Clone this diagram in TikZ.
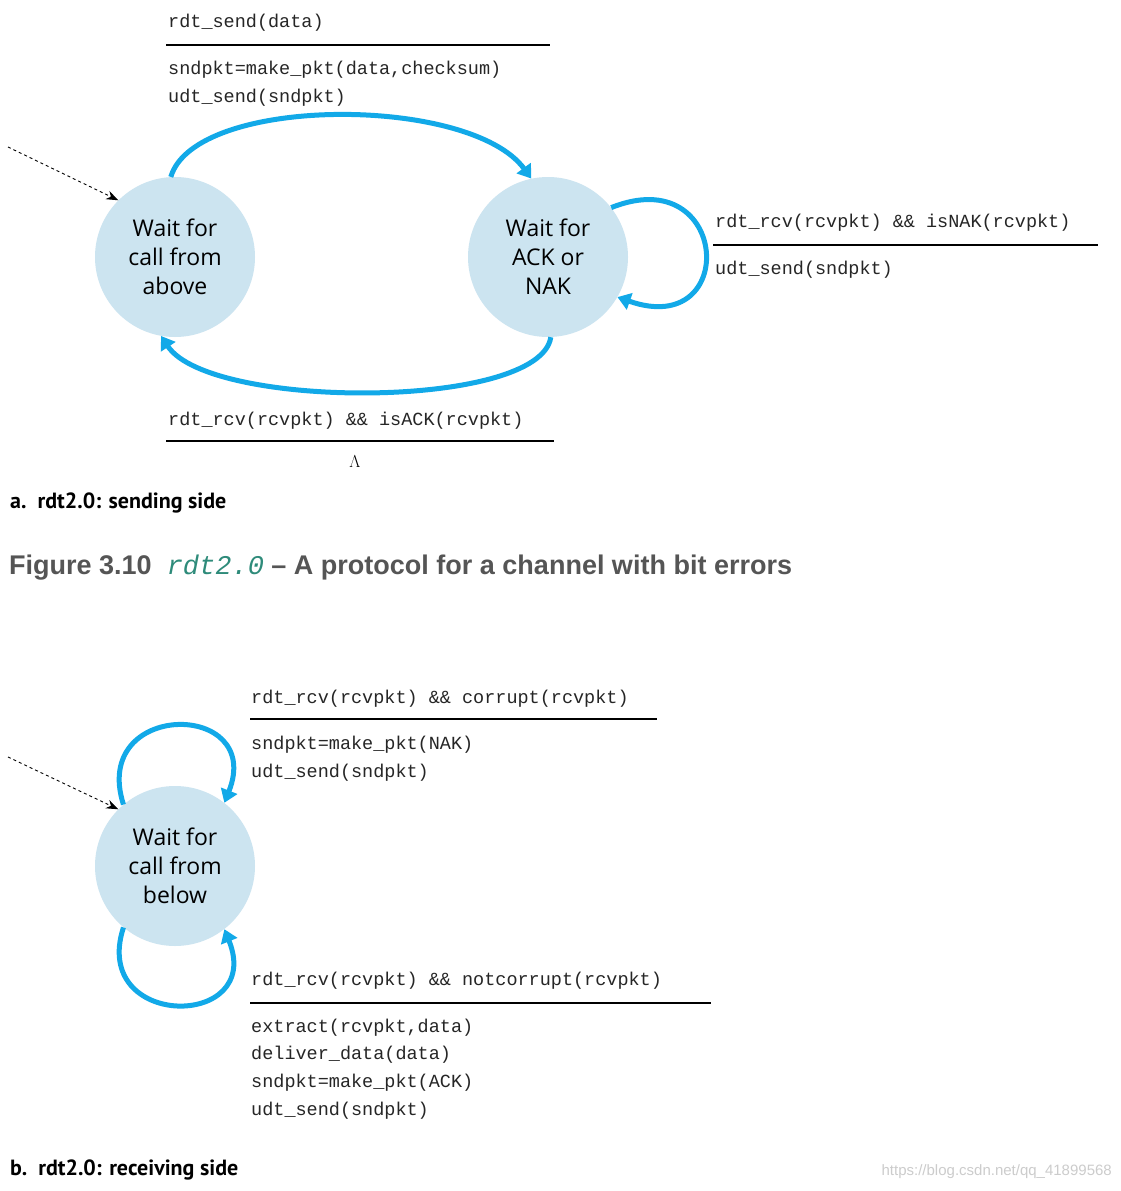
\documentclass[tikz,border=0pt]{standalone}
\usepackage{fontspec}
\setmainfont{Liberation Sans}
\newfontfamily\monof{Liberation Mono}
\newfontfamily\opens{Open Sans}
\newfontfamily\condf{PT Sans}
\usetikzlibrary{arrows.meta}
\definecolor{stfill}{HTML}{CCE4F0}
\definecolor{arc}{HTML}{12A9E8}
\definecolor{capg}{HTML}{555555}
\definecolor{teal}{HTML}{2E8B7A}
\begin{document}
\begin{tikzpicture}[x=1pt,y=-1pt,
  state/.style={circle,fill=stfill,minimum size=160pt,inner sep=0pt,align=center,font=\opens\fontsize{23}{29}\selectfont},
  tr/.style={draw=arc,line width=5pt,-{Triangle[length=13pt,width=17pt]}},
  init/.style={draw=black,dashed,line width=0.9pt,-{Stealth[length=12pt,width=9pt]}},
  code/.style={anchor=west,inner sep=0pt,font=\monof\fontsize{18.5}{22}\selectfont,text=black!85},
  rule/.style={draw=black,line width=1.2pt},
  sub/.style={anchor=west,inner sep=0pt,font=\condf\bfseries\fontsize{22}{26}\selectfont}]
\useasboundingbox (0,0) rectangle (1120,1191);
\fill[white] (0,0) rectangle (1120,1191);
% states
\node[state] (s1) at (175,257) {Wait for\\call from\\above};
\node[state] (s2) at (548,257) {Wait for\\ACK or\\NAK};
\node[state] (r1) at (175,866) {Wait for\\call from\\below};
% initial arrows
\coordinate (i1) at (8,147);
\coordinate (i2) at (8,757);
\draw[init] (i1) -- (s1.135);
\draw[init] (i2) -- (r1.135);
% transitions
\draw[tr] (s1.93) .. controls (195,95) and (470,95) .. (s2.102);
\draw[tr] (s2.272) .. controls (540,410) and (210,410) .. (s1.260);
\draw[tr] (s2.38) .. controls (730,160) and (740,340) .. (s2.-30);
\draw[tr] (r1.130) .. controls (90,700) and (265,700) .. (r1.52);
\draw[tr] (r1.230) .. controls (90,1030) and (265,1030) .. (r1.-52);
% labels
\node[code] (t1) at (168,23) {rdt\_send(data)};
\draw[rule] (166,45) -- (550,45);
\node[code] (t2) at (168,70) {sndpkt=make\_pkt(data,checksum)};
\node[code] (t3) at (168,98) {udt\_send(sndpkt)};
\node[code] (t4) at (715,223) {rdt\_rcv(rcvpkt) \&\& isNAK(rcvpkt)};
\draw[rule] (713,245) -- (1098,245);
\node[code] (t5) at (715,270) {udt\_send(sndpkt)};
\node[code] (t6) at (168,421) {rdt\_rcv(rcvpkt) \&\& isACK(rcvpkt)};
\draw[rule] (166,441) -- (554,441);
\node[inner sep=0pt,font=\fontsize{19}{20}\selectfont] (lam) at (355,462) {$\Lambda$};
\node[code] (u1) at (251,699) {rdt\_rcv(rcvpkt) \&\& corrupt(rcvpkt)};
\draw[rule] (250,719) -- (657,719);
\node[code] (u2) at (251,745) {sndpkt=make\_pkt(NAK)};
\node[code] (u3) at (251,773) {udt\_send(sndpkt)};
\node[code] (u4) at (251,981) {rdt\_rcv(rcvpkt) \&\& notcorrupt(rcvpkt)};
\draw[rule] (250,1003) -- (711,1003);
\node[code] (u5) at (251,1028) {extract(rcvpkt,data)};
\node[code] (u6) at (251,1055) {deliver\_data(data)};
\node[code] (u7) at (251,1083) {sndpkt=make\_pkt(ACK)};
\node[code] (u8) at (251,1111) {udt\_send(sndpkt)};
% captions
\node[sub] (ca) at (10,503) {a.\ \ rdt2.0: sending side};
\node[anchor=west,inner sep=0pt,text=capg,font=\bfseries\fontsize{27}{30}\selectfont] (fig) at (9,568)
  {Figure 3.10\ \ {\color{teal}\monof\itshape\mdseries rdt2.0} -- A protocol for a channel with bit errors};
\node[sub] (cb) at (10,1170) {b.\ \ rdt2.0: receiving side};
\node[anchor=east,inner sep=0pt,text=black!20,font=\fontsize{15}{16}\selectfont] (wm) at (1112,1172) {https://blog.csdn.net/qq\_41899568};
\end{tikzpicture}
\end{document}
